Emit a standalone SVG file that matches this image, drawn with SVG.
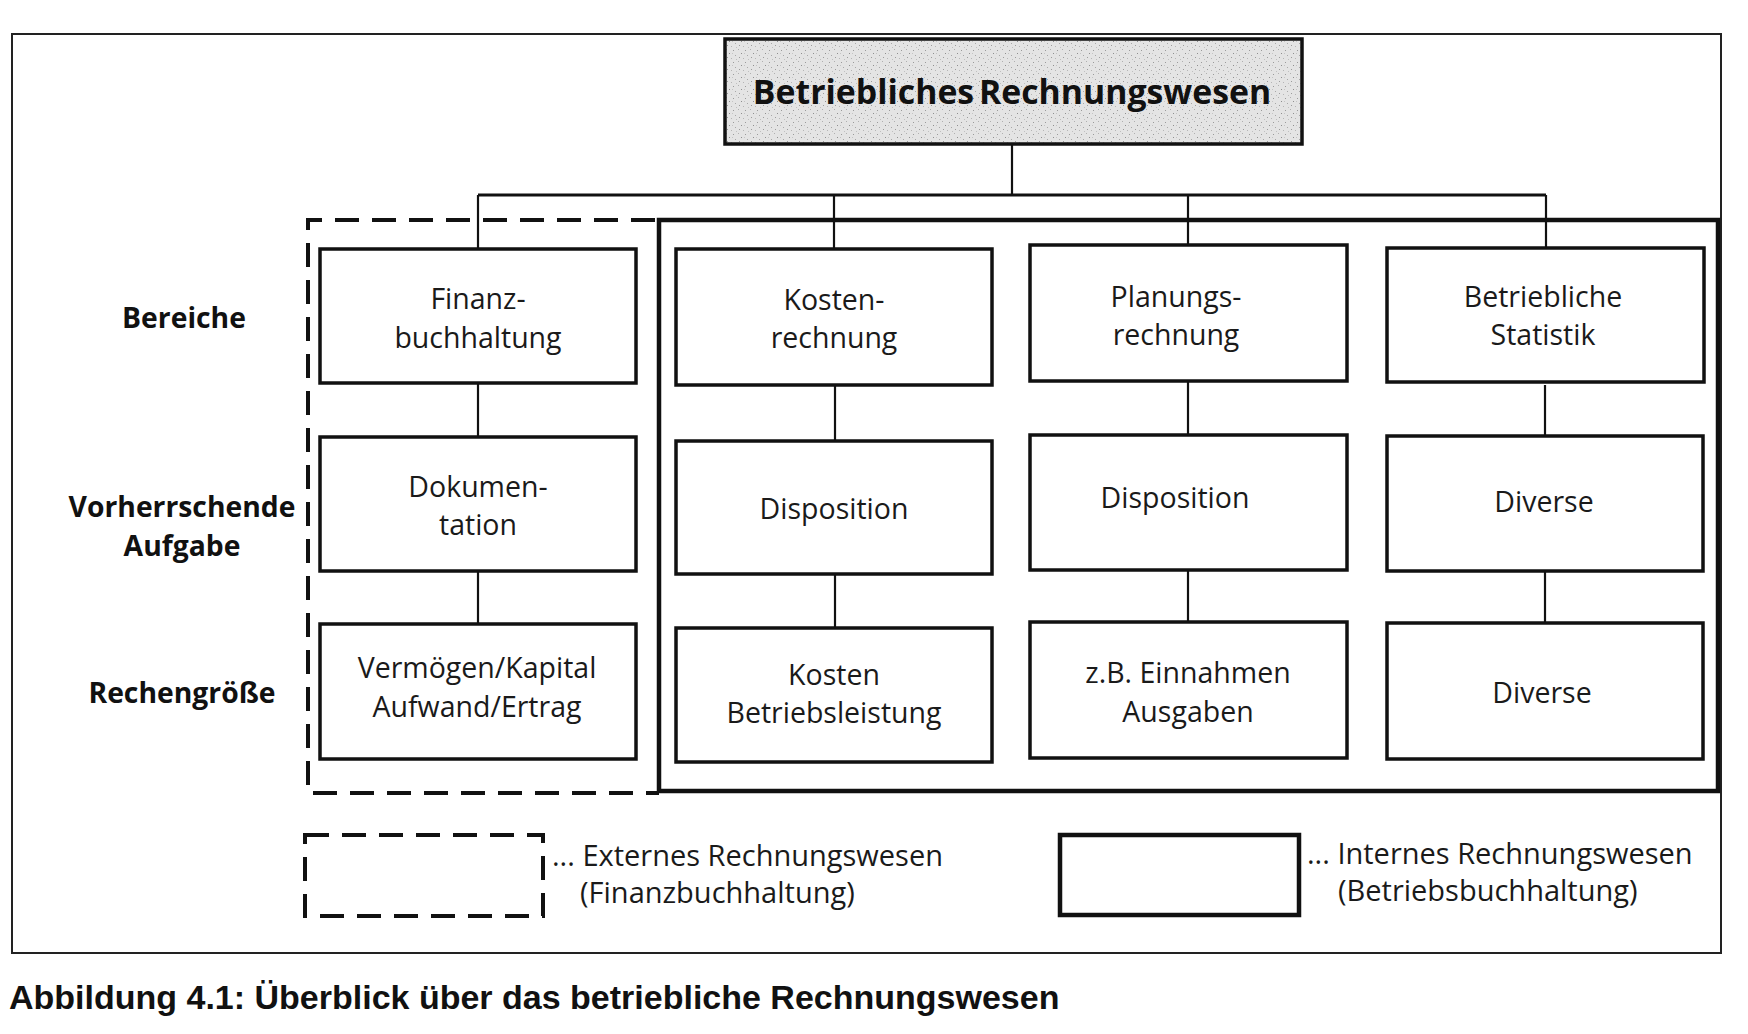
<svg xmlns="http://www.w3.org/2000/svg" width="1748" height="1034" viewBox="0 0 1748 1034">
<defs>
<pattern id="speckle" width="12" height="12" patternUnits="userSpaceOnUse">
<rect width="12" height="12" fill="#e4e4e4"/>
<rect x="1" y="2" width="1" height="1" fill="#9a9a9a"/>
<rect x="6" y="1" width="1" height="1" fill="#b0b0b0"/>
<rect x="9" y="5" width="1" height="1" fill="#8f8f8f"/>
<rect x="3" y="7" width="1" height="1" fill="#a8a8a8"/>
<rect x="7" y="9" width="1" height="1" fill="#9c9c9c"/>
<rect x="11" y="10" width="1" height="1" fill="#b5b5b5"/>
<rect x="4" y="11" width="1" height="1" fill="#c0c0c0"/>
<rect x="0" y="5" width="1" height="1" fill="#c4c4c4"/>
</pattern>
<style>
.box{fill:#fff;stroke:#111;stroke-width:3.5}
.t{font-family:"Open Sans","Noto Sans","Liberation Sans",sans-serif;font-size:28.5px;fill:#1a1a1a;text-anchor:middle}
.lbl{font-family:"Open Sans","Noto Sans","Liberation Sans",sans-serif;font-size:28.3px;font-weight:bold;fill:#111;text-anchor:middle}
.leg{font-family:"Open Sans","Noto Sans","Liberation Sans",sans-serif;font-size:29px;fill:#1a1a1a}
.con{stroke:#111;stroke-width:2.2;fill:none}
</style>
</defs>
<rect width="1748" height="1034" fill="#fff"/>

<!-- outer frame -->
<rect x="12" y="34" width="1709" height="919" fill="none" stroke="#222" stroke-width="2"/>

<!-- group frames -->
<g id="extern-frame">
<path d="M655,220 H308 V793 H659" fill="none" stroke="#111" stroke-width="4" stroke-dasharray="24 13"/>
</g>
<g id="intern-frame">
<rect x="659" y="220" width="1059" height="571" fill="none" stroke="#111" stroke-width="4.5"/>
</g>

<!-- connectors -->
<g id="connectors" class="con">
<line x1="1012" y1="144" x2="1012" y2="195"/>
<line x1="478" y1="195" x2="1546" y2="195" stroke-width="3"/>
<line x1="478" y1="195" x2="478" y2="249"/>
<line x1="834" y1="195" x2="834" y2="249"/>
<line x1="1188" y1="195" x2="1188" y2="245"/>
<line x1="1546" y1="195" x2="1546" y2="248"/>
<line x1="478" y1="383" x2="478" y2="437"/>
<line x1="478" y1="571" x2="478" y2="624"/>
<line x1="835" y1="386" x2="835" y2="441"/>
<line x1="835" y1="574" x2="835" y2="628"/>
<line x1="1188" y1="381" x2="1188" y2="435"/>
<line x1="1188" y1="570" x2="1188" y2="622"/>
<line x1="1545" y1="385" x2="1545" y2="436"/>
<line x1="1545" y1="571" x2="1545" y2="623"/>
</g>

<!-- title -->
<g id="node-title">
<rect x="725" y="39" width="577" height="105" fill="url(#speckle)" stroke="#111" stroke-width="3.5"/>
<text x="1012" y="104" font-family="'Open Sans','Noto Sans','Liberation Sans',sans-serif" font-size="33.8" font-weight="bold" fill="#111" text-anchor="middle" word-spacing="-4">Betriebliches Rechnungswesen</text>
</g>

<!-- row labels -->
<g id="label-bereiche"><text class="lbl" x="184" y="328">Bereiche</text></g>
<g id="label-aufgabe"><text class="lbl" x="182" y="517">Vorherrschende</text><text class="lbl" x="182" y="556">Aufgabe</text></g>
<g id="label-rechengroesse"><text class="lbl" x="182" y="703">Rechengröße</text></g>

<!-- row 1 -->
<g id="node-finanzbuchhaltung">
<rect class="box" x="320" y="249" width="316" height="134"/>
<text class="t" x="478" y="309">Finanz-</text><text class="t" x="478" y="348">buchhaltung</text>
</g>
<g id="node-kostenrechnung">
<rect class="box" x="676" y="249" width="316" height="136"/>
<text class="t" x="834" y="310">Kosten-</text><text class="t" x="834" y="348">rechnung</text>
</g>
<g id="node-planungsrechnung">
<rect class="box" x="1030" y="245" width="317" height="136"/>
<text class="t" x="1176" y="307">Planungs-</text><text class="t" x="1176" y="345">rechnung</text>
</g>
<g id="node-statistik">
<rect class="box" x="1387" y="248" width="317" height="134"/>
<text class="t" x="1543" y="307">Betriebliche</text><text class="t" x="1543" y="345">Statistik</text>
</g>

<!-- row 2 -->
<g id="node-dokumentation">
<rect class="box" x="320" y="437" width="316" height="134"/>
<text class="t" x="478" y="497">Dokumen-</text><text class="t" x="478" y="535">tation</text>
</g>
<g id="node-disposition-1">
<rect class="box" x="676" y="441" width="316" height="133"/>
<text class="t" x="834" y="519">Disposition</text>
</g>
<g id="node-disposition-2">
<rect class="box" x="1030" y="435" width="317" height="135"/>
<text class="t" x="1175" y="508">Disposition</text>
</g>
<g id="node-diverse-1">
<rect class="box" x="1387" y="436" width="316" height="135"/>
<text class="t" x="1544" y="512">Diverse</text>
</g>

<!-- row 3 -->
<g id="node-vermoegen">
<rect class="box" x="320" y="624" width="316" height="135"/>
<text class="t" x="477" y="678">Vermögen/Kapital</text><text class="t" x="477" y="717">Aufwand/Ertrag</text>
</g>
<g id="node-kosten">
<rect class="box" x="676" y="628" width="316" height="134"/>
<text class="t" x="834" y="685">Kosten</text><text class="t" x="834" y="723">Betriebsleistung</text>
</g>
<g id="node-einnahmen">
<rect class="box" x="1030" y="622" width="317" height="136"/>
<text class="t" x="1188" y="683">z.B. Einnahmen</text><text class="t" x="1188" y="722">Ausgaben</text>
</g>
<g id="node-diverse-2">
<rect class="box" x="1387" y="623" width="316" height="136"/>
<text class="t" x="1542" y="703">Diverse</text>
</g>

<!-- legend -->
<g id="legend-extern">
<rect x="305" y="835" width="238" height="81" fill="none" stroke="#111" stroke-width="4" stroke-dasharray="24 13"/>
<text class="leg" x="552" y="866">... Externes Rechnungswesen</text>
<text class="leg" x="580" y="903">(Finanzbuchhaltung)</text>
</g>
<g id="legend-intern">
<rect x="1060" y="835" width="239" height="80" fill="none" stroke="#111" stroke-width="4.5"/>
<text class="leg" x="1307" y="864">... Internes Rechnungswesen</text>
<text class="leg" x="1338" y="901">(Betriebsbuchhaltung)</text>
</g>

<!-- caption -->
<text x="9" y="1009" font-family="'Liberation Sans',Arial,sans-serif" font-size="34" font-weight="bold" fill="#111">Abbildung 4.1: Überblick über das betriebliche Rechnungswesen</text>
</svg>
